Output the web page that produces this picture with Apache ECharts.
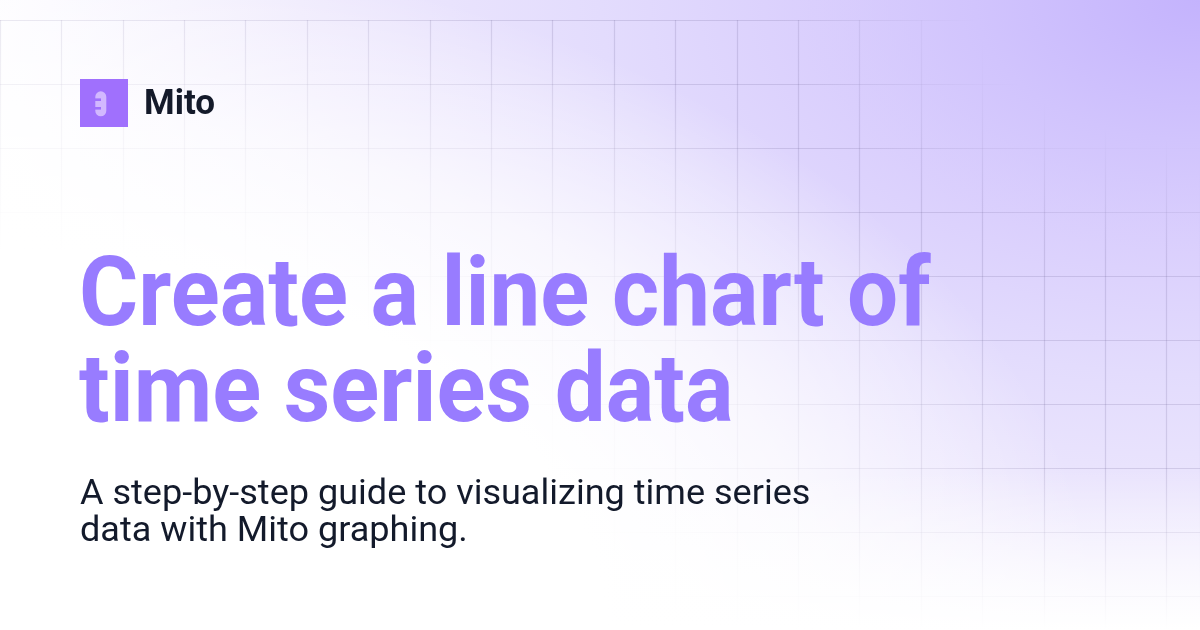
<!DOCTYPE html>
<html><head><meta charset="utf-8">
<script src="https://cdn.jsdelivr.net/npm/echarts@6/dist/echarts.min.js"></script>
<style>html,body{margin:0;padding:0;width:1200px;height:630px;overflow:hidden;background:#fff}#c{width:1200px;height:630px}</style>
</head><body><div id="c"></div>
<script>
// ---- content ----
const brandName = ['Mito'];
const titleLines = ['Create a line chart of', 'time series data'];
const subtitleLines = ['A step-by-step guide to visualizing time series', 'data with Mito graphing.'];
// background grid (column / row spacing in px of the 1200x630 canvas)
const gridColumnStep = [61.4];
const gridRowStep = [64];

const W = 1200, H = 630;
const chart = echarts.init(document.getElementById('c'), null, {renderer: 'canvas', width: W, height: H});

const bgStops = [
  {offset: 0, color: '#c4b3fd'},
  {offset: 0.27, color: '#d8ccfd'},
  {offset: 0.48, color: '#e3dcfd'},
  {offset: 0.72, color: '#efeafd'},
  {offset: 0.92, color: '#fbfaff'},
  {offset: 1, color: '#ffffff'}
];
const maskStops = [
  {offset: 0, color: 'rgba(196,179,253,1)'},
  {offset: 0.18, color: 'rgba(209,196,253,1)'},
  {offset: 0.34, color: 'rgba(219,209,253,0)'},
  {offset: 1, color: 'rgba(255,255,255,0)'}
];
const whiteStops = [
  {offset: 0, color: 'rgba(255,255,255,1)'},
  {offset: 0.55, color: 'rgba(255,255,255,1)'},
  {offset: 0.75, color: 'rgba(255,255,255,0.7)'},
  {offset: 0.9, color: 'rgba(255,255,255,0.3)'},
  {offset: 1, color: 'rgba(255,255,255,0)'}
];
const ratioBL = 1.6;

const splitStyle = {show: true, lineStyle: {color: 'rgba(110,100,150,0.2)', width: 1.2}};

const option = {
  animation: false,
  backgroundColor: '#ffffff',
  grid: {left: 0, top: 20, width: W, height: 640, containLabel: false, outerBoundsMode: 'none'},
  xAxis: {
    type: 'value', min: 0, max: W, interval: gridColumnStep[0],
    axisLine: {show: false}, axisTick: {show: false}, axisLabel: {show: false},
    splitLine: splitStyle
  },
  yAxis: {
    type: 'value', inverse: true, min: 0, max: 640, interval: gridRowStep[0],
    axisLine: {show: false}, axisTick: {show: false}, axisLabel: {show: false},
    splitLine: splitStyle
  },
  series: [],
  graphic: {elements: [
    {type: 'rect', z: -10, silent: true, shape: {x: 0, y: 0, width: W, height: H * 1.6}, scaleY: 1 / 1.6,
      style: {fill: new echarts.graphic.RadialGradient(W, 0, 1250, bgStops, true)}},
    {type: 'rect', z: 5, silent: true, shape: {x: 0, y: 0, width: W, height: H * 1.6}, scaleY: 1 / 1.6,
      style: {fill: new echarts.graphic.RadialGradient(W, 0, 1250, maskStops, true)}},
    {type: 'rect', z: 5, silent: true, shape: {x: 0, y: 0, width: W, height: H * ratioBL}, scaleY: 1 / ratioBL,
      style: {fill: new echarts.graphic.RadialGradient(0, H * ratioBL, 1100, whiteStops, true)}},
    {type: 'rect', z: 6, silent: true, shape: {x: 0, y: 470, width: W, height: 160},
      style: {fill: new echarts.graphic.LinearGradient(0, 0, 0, 1, [
        {offset: 0, color: 'rgba(255,255,255,0)'},
        {offset: 0.6, color: 'rgba(255,255,255,0.6)'},
        {offset: 1, color: 'rgba(255,255,255,1)'}])}},
    // logo
    {type: 'rect', z: 20, silent: true, shape: {x: 80, y: 79, width: 48, height: 48}, style: {fill: '#a070fd'}},
    {type: 'rect', z: 21, silent: true, shape: {x: 95.3, y: 91.3, width: 11, height: 25, r: 5.5}, style: {fill: '#d2b8ff'}},
    {type: 'rect', z: 22, silent: true, shape: {x: 94, y: 98.4, width: 7, height: 2.6}, style: {fill: '#a070fd'}},
    {type: 'rect', z: 22, silent: true, shape: {x: 94, y: 107, width: 7, height: 2.6}, style: {fill: '#a070fd'}},
    {type: 'text', z: 20, silent: true, x: 144, y: 105.5,
      style: {text: brandName[0], font: 'bold 35px Roboto', fill: '#141a2a', verticalAlign: 'middle'}},
    // title
    {type: 'text', z: 20, silent: true, x: 79, y: 300.8, scaleX: 0.935,
      style: {text: titleLines[0], font: 'bold 97px Roboto', fill: '#987cff', verticalAlign: 'middle'}},
    {type: 'text', z: 20, silent: true, x: 79, y: 396.8, scaleX: 0.935,
      style: {text: titleLines[1], font: 'bold 97px Roboto', fill: '#987cff', verticalAlign: 'middle'}},
    // subtitle
    {type: 'text', z: 20, silent: true, x: 80, y: 495, scaleX: 1.03,
      style: {text: subtitleLines[0], font: '35px Roboto', fill: '#131a2b', verticalAlign: 'middle'}},
    {type: 'text', z: 20, silent: true, x: 80, y: 532, scaleX: 1.03,
      style: {text: subtitleLines[1], font: '35px Roboto', fill: '#131a2b', verticalAlign: 'middle'}}
  ]}
};
chart.setOption(option);
</script>
</body></html>
